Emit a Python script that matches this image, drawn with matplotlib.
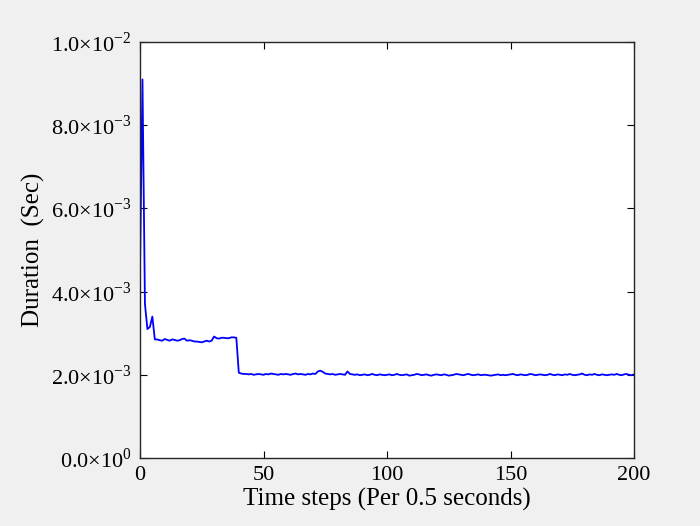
import matplotlib
matplotlib.use("Agg")
from matplotlib import pyplot as plt
from matplotlib.ticker import FixedLocator

# duration in ms (scaled by 1e-3 below)
early = [4.5, 9.1, 3.7, 3.1, 3.15, 3.4, 2.85, 2.85, 2.83, 2.82,
         2.86, 2.84, 2.82, 2.85, 2.84, 2.82, 2.83, 2.86, 2.87, 2.82,
         2.83, 2.82, 2.80, 2.80, 2.79, 2.78, 2.80, 2.82, 2.80, 2.82,
         2.92, 2.88, 2.87, 2.89, 2.89, 2.88, 2.88, 2.90, 2.90, 2.89]
late = [2.05, 2.03, 2.02, 2.02, 2.01, 2.02, 2.00, 2.01, 2.02, 2.01,
        2.00, 2.02, 2.01, 2.03, 2.02, 2.01, 2.00, 2.02, 2.01, 2.02,
        2.01, 2.00, 2.02, 2.03, 2.01, 2.02, 2.01, 2.00, 2.02, 2.01,
        2.03, 2.02, 2.08, 2.10, 2.07, 2.03, 2.02, 2.01, 2.02, 2.00,
        2.01, 2.02, 2.01, 2.00, 2.08, 2.02, 2.01, 2.00, 2.01, 1.99,
        2.00, 2.01, 1.99, 2.00, 2.02, 2.00, 1.99, 2.01, 2.00, 1.99,
        2.00, 2.01, 1.99, 2.00, 2.02, 2.00, 1.99, 2.00, 2.01, 1.98,
        1.99, 2.00, 2.02, 2.01, 1.99, 2.00, 2.01, 1.99, 1.98, 2.00,
        2.01, 2.00, 1.99, 2.01, 2.00, 1.98, 1.99, 2.00, 2.02, 2.01,
        2.00, 1.99, 2.01, 2.02, 2.00, 1.99, 2.00, 2.01, 1.99, 2.00,
        2.00, 1.99, 1.98, 1.99, 2.00, 2.01, 1.99, 2.00, 1.99, 2.00,
        2.01, 2.02, 2.00, 1.99, 2.01, 2.00, 1.99, 2.00, 2.02, 2.01,
        1.99, 2.00, 2.01, 2.00, 1.99, 2.00, 2.02, 2.00, 1.99, 2.01,
        2.00, 1.99, 2.01, 2.00, 2.02, 2.00, 1.99, 2.00, 2.01, 2.03,
        2.00, 1.99, 2.01, 2.00, 2.02, 2.00, 1.99, 2.01, 2.00, 1.99,
        2.00, 2.01, 2.00, 2.02, 2.00, 1.99, 2.01, 2.02, 2.00, 1.99,
        2.01]
durations = [v * 1e-3 for v in early + late]
steps = list(range(len(durations)))

y_ticks = [0, 2e-3, 4e-3, 6e-3, 8e-3, 1e-2]
y_labels = [r"0.0$\times$10$^{0}$", r"2.0$\times$10$^{-3}$", r"4.0$\times$10$^{-3}$",
            r"6.0$\times$10$^{-3}$", r"8.0$\times$10$^{-3}$", r"1.0$\times$10$^{-2}$"]

plt.rcParams["font.family"] = ["Liberation Serif", "DejaVu Serif"]
plt.rcParams["mathtext.fontset"] = "custom"
plt.rcParams["mathtext.rm"] = "Liberation Serif"

fig = plt.figure(figsize=(7, 5.26), dpi=100, facecolor="#f0f0f0")
ax = fig.add_axes([140 / 700, 1 - 458 / 526, 494 / 700, 416 / 526])
ax.plot(steps, durations, color="#0000ff", linewidth=1.3)
ax.set_xlim(0, 200)
ax.set_ylim(0, 1e-2)
ax.set_xticks([0, 50, 100, 150, 200])
ax.yaxis.set_major_locator(FixedLocator(y_ticks))
ax.set_yticklabels(y_labels)
ax.tick_params(labelsize=16, direction="in", top=True, right=True, length=5, pad=6)
ax.set_xlabel("Time steps (Per 0.5 seconds)", fontsize=18, labelpad=2)
ax.set_ylabel("Duration  (Sec)", fontsize=18, labelpad=4)
for s in ax.spines.values():
    s.set_linewidth(1.0)
    s.set_color("#262626")
fig.savefig("out.png", dpi=100, facecolor=fig.get_facecolor())
